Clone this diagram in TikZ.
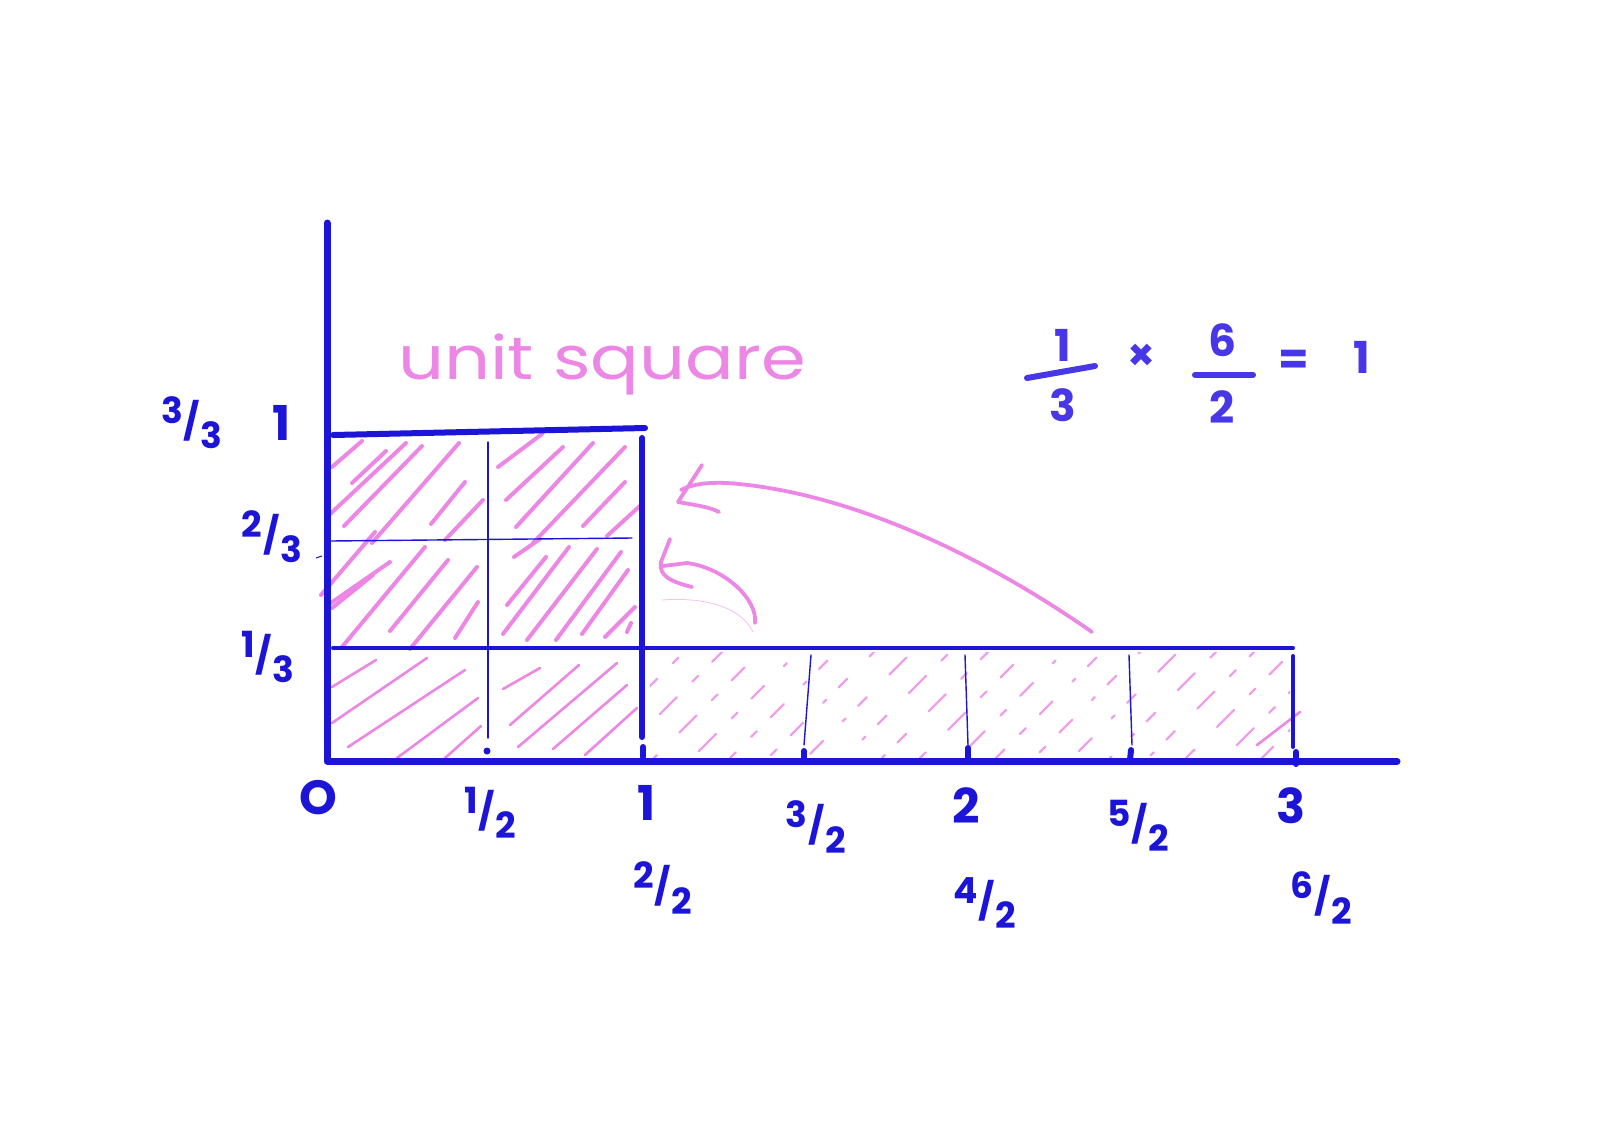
\documentclass[tikz,border=0pt]{standalone}
\usepackage{fontspec}
\setmainfont{Poppins}
\usetikzlibrary{calc}
\definecolor{inkblue}{RGB}{28,20,215}
\definecolor{eqblue}{RGB}{72,55,230}
\definecolor{inkpink}{RGB}{236,135,230}
\newcommand{\hf}[2]{\raisebox{0.3em}{#1}\kern0.02em/\kern0.02em\raisebox{-0.4em}{#2}}
\begin{document}
\begin{tikzpicture}[x=0.5pt,y=-0.5pt,
  ink/.style={inkblue,line cap=round,line join=round},
  thinink/.style={inkblue,line width=0.7pt,line cap=round},
  blob/.style={inkblue,line width=3pt,line cap=round},
  hatch/.style={inkpink,line width=2pt,line cap=round},
  lhatch/.style={inkpink,line width=1.3pt,line cap=round},
  shatch/.style={inkpink,line width=1.2pt,line cap=round,opacity=0.8,
    dash pattern=on 4pt off 10pt on 9pt off 14pt on 2pt off 9pt on 6pt off 16pt on 12pt off 11pt},
  lbl/.style={inkblue,font=\bfseries\fontsize{18}{18}\selectfont,inner sep=0pt},
  big/.style={inkblue,font=\bfseries\fontsize{24}{24}\selectfont,inner sep=0pt},
  eq/.style={eqblue,font=\bfseries\fontsize{22}{22}\selectfont,inner sep=0pt},
  pinkarrow/.style={inkpink,line width=1.9pt,line cap=round,line join=round}]
\useasboundingbox[fill=white] (0,0) rectangle (1600,1131);

% ---- strip hatching (faded, broken)
\begin{scope}
\clip (650,652) rectangle (1290,758);
\foreach \s [count=\i] in {0,38,...,760} {
  \draw[shatch,dash phase=\i*13pt] (650+\s-110,758) -- (650+\s,648);
}
\end{scope}
\draw[lhatch] (1257,745) -- (1300,712);

% ---- unit square hatching
\draw[hatch] (332,467) -- (362,441);
\draw[hatch] (352,483) -- (386,451);
\draw[hatch] (328,516) -- (406,443);
\draw[hatch] (344,526) -- (422,446);
\draw[hatch] (372,543) -- (459,443);
\draw[hatch] (431,524) -- (465,482);
\draw[hatch] (445,540) -- (483,500);
\draw[hatch] (498,467) -- (542,434);
\draw[hatch] (506,500) -- (563,447);
\draw[hatch] (516,527) -- (593,443);
\draw[hatch] (533,543) -- (625,447);
\draw[hatch] (583,526) -- (625,482);
\draw[hatch] (607,536) -- (642,504);
\draw[hatch] (514,557) -- (540,539);
\draw[hatch] (321,595) -- (375,532);
\draw[hatch] (328,605) -- (390,562);
\draw[hatch] (332,608) -- (373,575);
\draw[hatch] (342,647) -- (425,547);
\draw[hatch] (390,631) -- (448,560);
\draw[hatch] (410,649) -- (477,567);
\draw[hatch] (455,638) -- (478,602);
\draw[hatch] (507,605) -- (546,557);
\draw[hatch] (503,634) -- (569,547);
\draw[hatch] (527,640) -- (597,549);
\draw[hatch] (556,640) -- (621,552);
\draw[hatch] (582,634) -- (628,570);
\draw[hatch] (605,637) -- (635,607);
\draw[hatch] (627,632) -- (631,623);
\draw[lhatch] (332,687) -- (376,660);
\draw[lhatch] (332,723) -- (427,658);
\draw[lhatch] (348,747) -- (465,670);
\draw[lhatch] (397,758) -- (478,698);
\draw[lhatch] (445,758) -- (481,726);
\draw[lhatch] (503,689) -- (540,668);
\draw[lhatch] (510,725) -- (579,665);
\draw[lhatch] (518,747) -- (617,663);
\draw[lhatch] (553,749) -- (627,685);
\draw[lhatch] (585,755) -- (637,708);

% ---- grid lines
\draw[thinink] (488,442) -- (488,738);
\fill[inkblue] (487,751) circle (3.5);
\draw[thinink] (330,541) -- (632,538);
\draw[thinink] (811,655) -- (804,745);
\draw[thinink] (965,655) -- (968,745);
\draw[thinink] (1129,655) -- (1132,745);
\draw[inkblue,line width=0.5pt] (316,558) -- (322,556);

% ---- axes and frame
\draw[ink,line width=3.5pt] (327,223) -- (327,761) -- (1397,761);
\draw[ink,line width=3pt] (333,435) -- (645,428);
\draw[ink,line width=3pt] (642,438) -- (642,737);
\draw[ink,line width=2pt] (333,648) -- (1293,648);
\draw[ink,line width=2pt] (1293,656) -- (1293,747);

% ---- tick blobs
\draw[blob] (643,747) -- (643,757);
\draw[blob] (804,751) -- (804,759);
\draw[blob] (968,748) -- (968,759);
\draw[blob] (1131,750) -- (1130,760);
\draw[blob] (1296,752) -- (1296,764);

% ---- arrows
\draw[pinkarrow] (1092,632) .. controls (960,540) and (830,490) .. (727,483)
  .. controls (705,482) and (690,485) .. (681,490);
\draw[pinkarrow] (702,465) -- (678,502) .. controls (695,505) and (710,507) .. (719,512);
\draw[pinkarrow] (755,623) .. controls (758,600) and (725,568) .. (687,563) -- (663,566);
\draw[pinkarrow] (670,539) -- (661,562) .. controls (658,576) and (672,582) .. (692,587);
\draw[inkpink,line width=0.4pt,opacity=0.5] (662,600) .. controls (700,597) and (740,605) .. (753,632);

% ---- labels
\node[lbl] (l33) at (192,423) {\hf{3}{3}};
\node[big] (l1y) at (282,423) {1};
\node[lbl] (l23) at (272,537) {\hf{2}{3}};
\node[lbl] (l13) at (268,657) {\hf{1}{3}};
\node[big] (l0) at (318,798) {O};
\node[lbl] (lh) at (490,813) {\hf{1}{2}};
\node[big] (l1x) at (647,803) {1};
\node[lbl] (l22) at (663,888) {\hf{2}{2}};
\node[lbl] (l32) at (816,827) {\hf{3}{2}};
\node[big] (l2) at (966,806) {2};
\node[lbl] (l42) at (985,903) {\hf{4}{2}};
\node[lbl] (l52) at (1138,826) {\hf{5}{2}};
\node[big] (l3) at (1291,806) {3};
\node[lbl] (l62) at (1321,898) {\hf{6}{2}};

% ---- unit square
\node[inkpink,font=\fontsize{30}{30}\selectfont,inner sep=0pt,xscale=1.2] (us) at (602,364) {unit square};

% ---- equation
\node[eq] (n1) at (1063,345) {1};
\node[eq] (d3) at (1063,405) {3};
\draw[eqblue,line width=3pt,line cap=round] (1027,378) -- (1095,366);
\node[eq] (times) at (1141,357) {×};
\node[eq] (n6) at (1222,340) {6};
\node[eq] (d2) at (1222,407) {2};
\draw[eqblue,line width=3pt,line cap=round] (1195,375) -- (1253,375);
\node[eq] (eqs) at (1294,362) {=};
\node[eq] (one) at (1362,357) {1};
\end{tikzpicture}
\end{document}
